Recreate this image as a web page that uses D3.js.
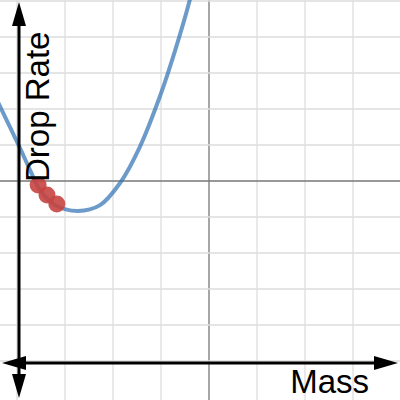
<!DOCTYPE html>
<html><head><script src="https://cdn.jsdelivr.net/npm/d3@7"></script>
<style>body{margin:0;background:#fff}</style></head><body><svg id="c" width="400" height="400"></svg>
<script>
const curveX=[-4.4,-3.94,-3.73,-3.52,-3.21,-2.73,-2.27,-1.85,-1.44,-1.02,-0.71,-0.40,-0.3];
const curveY=[2.2,0.92,0.31,-0.25,-0.67,-0.83,-0.67,-0.05,0.95,2.36,3.61,5.03,5.6];
const ptX=[-3.56,-3.375,-3.17];
const ptY=[-0.11,-0.39,-0.64];
const gridX=[-4,-3,-2,-1,0,1,2,3,4];
const gridY=[-5,-4,-3,-2,-1,0,1,2,3,4,5];
const xLabel="Mass", yLabel="Drop Rate";
const svg=d3.select("#c");
const x=d3.scaleLinear().domain([0,1]).range([209,257]);
const y=d3.scaleLinear().domain([0,1]).range([181,145]);
const g=svg.append("g");
gridX.forEach(v=>g.append("line").attr("x1",x(v)).attr("x2",x(v)).attr("y1",0).attr("y2",400).attr("stroke",v===0?"#777":"#ddd").attr("stroke-width",1.3));
gridY.forEach(v=>g.append("line").attr("y1",y(v)).attr("y2",y(v)).attr("x1",0).attr("x2",400).attr("stroke",v===0?"#777":"#ddd").attr("stroke-width",1.3));
const data=curveX.map((d,i)=>[d,curveY[i]]);
svg.append("path").datum(data).attr("d",d3.line().x(d=>x(d[0])).y(d=>y(d[1])).curve(d3.curveCatmullRom))
 .attr("fill","none").attr("stroke","#2d70b3").attr("stroke-opacity",0.7).attr("stroke-width",4);
ptX.forEach((v,i)=>svg.append("circle").attr("cx",x(v)).attr("cy",y(ptY[i])).attr("r",8.5).attr("fill","#c74440").attr("fill-opacity",0.9));
const ax=19, ay=363;
svg.append("line").attr("x1",ax).attr("x2",ax).attr("y1",14).attr("y2",388).attr("stroke","#000").attr("stroke-width",3);
svg.append("line").attr("x1",10).attr("x2",388).attr("y1",ay).attr("y2",ay).attr("stroke","#000").attr("stroke-width",3);
const tri=(pts)=>svg.append("polygon").attr("points",pts.map(p=>p.join(",")).join(" ")).attr("fill","#000");
tri([[ax,2],[ax-7,26],[ax+7,26]]);
tri([[ax,398],[ax-7,374],[ax+7,374]]);
tri([[2,ay],[26,ay-7],[26,ay+7]]);
tri([[398,ay],[374,ay-7],[374,ay+7]]);
svg.append("text").attr("x",369).attr("y",393).attr("text-anchor","end").attr("font-family","Liberation Sans, Arial").attr("font-size",33).text(xLabel);
svg.append("text").attr("transform","translate(49,182) rotate(-90)").attr("font-family","Liberation Sans, Arial").attr("font-size",33).text(yLabel);
</script></body></html>
